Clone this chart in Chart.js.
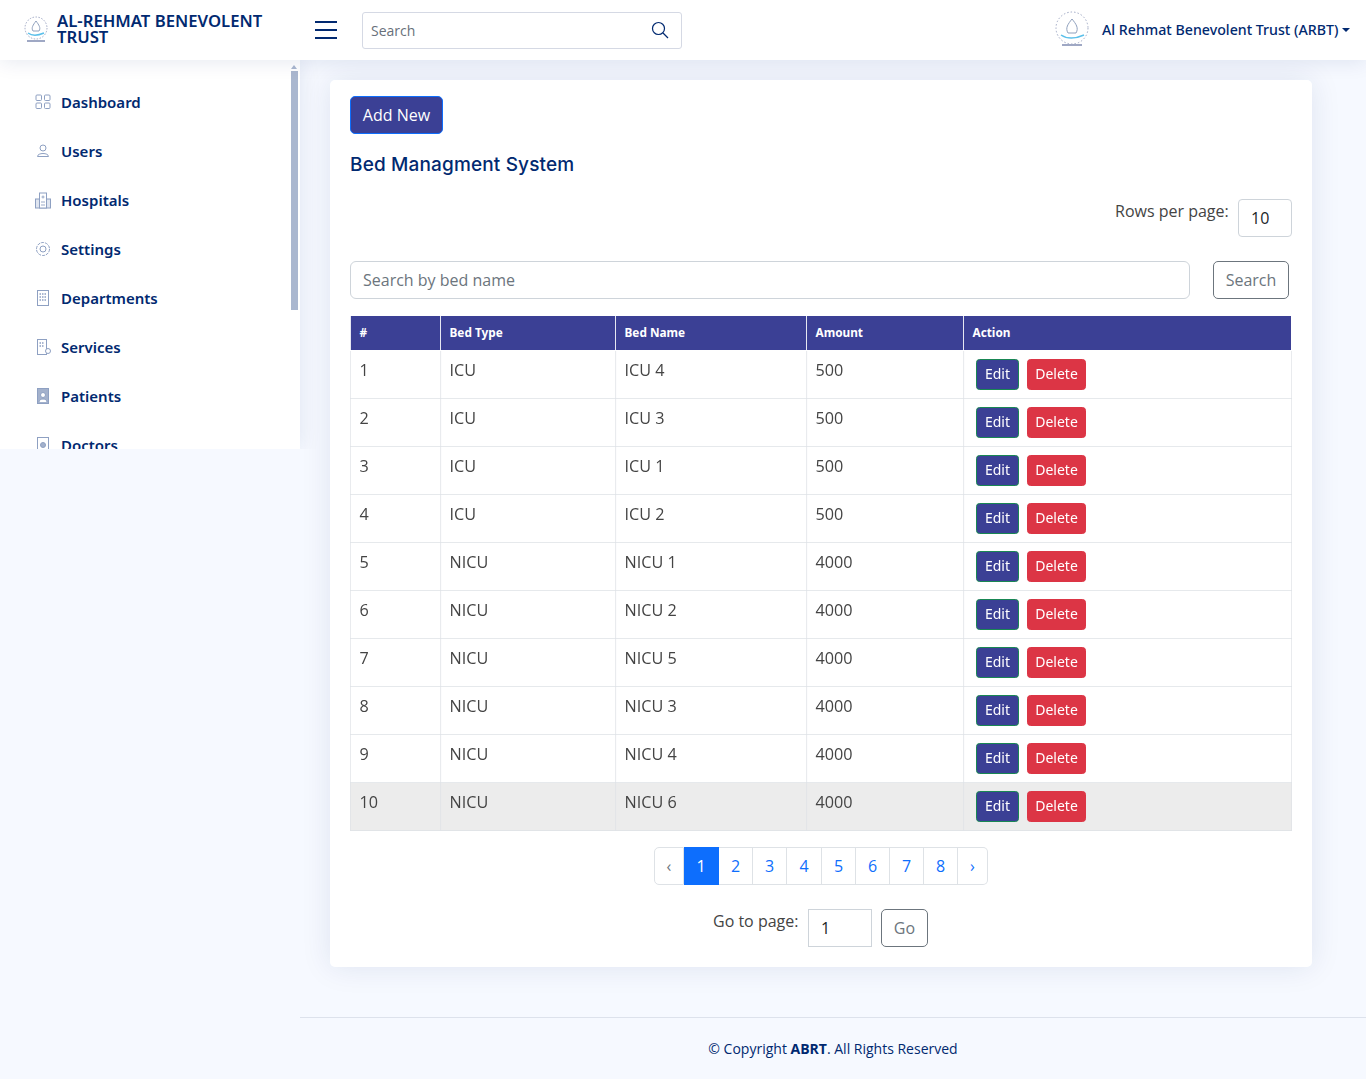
<!DOCTYPE html>
<html>
<head>
<meta charset="utf-8">
<title>Bed Managment System</title>
<script src="https://cdn.jsdelivr.net/npm/chart.js@4"></script>
<style>
  * { box-sizing: border-box; }
  html, body { margin: 0; height: 1079px; overflow: hidden; }
  body { background: #f6f9ff; font-family: "Open Sans", sans-serif; color: #444; position: relative; }
  .abs { position: absolute; white-space: nowrap; }
  .topbar { left: 0; top: 0; width: 1366px; height: 60px; background: #fff; box-shadow: 0 2px 20px rgba(1,41,112,.1); z-index: 3; }
  .brand { left: 57px; top: 13px; font: 600 16.7px/16px "Noto Sans", sans-serif; color: #012970; }
  .burger { left: 315px; width: 22px; height: 2px; background: #012970; }
  .topsearch { left: 362px; top: 12px; width: 320px; height: 37px; border: 1px solid #d5d9e4; border-radius: 3px; font-size: 14px; line-height: 35px; padding-left: 8px; color: #68707a; }
  .user { left: 1102px; top: 20px; font: 500 14.2px/20px "Noto Sans", sans-serif; color: #012970; }
  .caret { left: 1342px; top: 28px; border-top: 4px solid #012970; border-left: 4px solid transparent; border-right: 4px solid transparent; }
  .sidebar { left: 0; top: 60px; width: 300px; height: 389px; background: #fff; box-shadow: 0 0 20px rgba(1,41,112,.1); clip-path: inset(0 -30px 0 0); z-index: 2; }
  .sideclip { left: 0; top: 0; width: 300px; height: 389px; overflow: hidden; }
  .nav { left: 61px; font: 600 15px/20px "Noto Sans", sans-serif; color: #012970; }
  .thumb { left: 291px; top: 11px; width: 7px; height: 239px; background: #aab7cf; }
  .card { left: 330px; top: 80px; width: 982px; height: 887px; background: #fff; border-radius: 5px; box-shadow: 0 0 30px rgba(1,41,112,.1); }
  .btn { border-radius: 5px; text-align: center; font-size: 16px; }
  .field { border: 1px solid #ced4da; font-size: 16px; color: #212529; }
  .th { top: 316px; height: 34px; font: 700 11.8px/33px "Noto Sans", sans-serif; color: #fff; padding-left: 8.5px; background: #3b4095; border-left: 1px solid #e6e8f2; }
  .page { top: 847px; height: 38px; border: 1px solid #dee2e6; border-left: 0; text-align: center; line-height: 36px; font-size: 16px; color: #0d6efd; }
  .footline { left: 300px; top: 1017px; width: 1066px; height: 1px; background: #dde2ec; }
  #bedChart { position: absolute; left: 350px; top: 351px; }
</style>
</head>
<body>
<div class="abs topbar">
  <svg class="abs" style="left:21px;top:16px" width="30" height="28" viewBox="0 0 30 28" fill="none">
    <circle cx="15" cy="12" r="11" stroke="#9fa8c4" stroke-dasharray="1.5 1.5"/>
    <path d="M15 5c-3 4-5 7-3 10h6c2-3 0-6-3-10z" stroke="#8fa0bd"/>
    <path d="M7 17c4 3 9 3 16 0" stroke="#5cc0ea" stroke-width="1.5"/>
    <rect x="6" y="24" width="18" height="2" fill="#9fa8c4"/>
  </svg>
  <div class="abs brand">AL-REHMAT BENEVOLENT<br>TRUST</div>
  <div class="abs burger" style="top:21px"></div>
  <div class="abs burger" style="top:29px"></div>
  <div class="abs burger" style="top:37px"></div>
  <div class="abs topsearch">Search</div>
  <svg class="abs" style="left:651px;top:21px" width="18" height="18" viewBox="0 0 18 18" fill="none" stroke="#012970" stroke-width="1.2">
    <circle cx="7.500" cy="7.500" r="6"/><path d="M12 12l5 5"/>
  </svg>
  <svg class="abs" style="left:1052px;top:11px" width="40" height="38" viewBox="0 0 40 38" fill="none">
    <circle cx="20" cy="17" r="16" stroke="#9fa8c4" stroke-dasharray="1.5 2"/>
    <path d="M20 8c-4 5-7 9-4 14h8c3-5 0-9-4-14z" stroke="#8fa0bd"/>
    <path d="M9 24c6 4 14 4 23 0" stroke="#5cc0ea" stroke-width="1.5"/>
    <rect x="10" y="33" width="20" height="2" fill="#9fa8c4"/>
  </svg>
  <div class="abs user">Al Rehmat Benevolent Trust (ARBT)</div>
  <div class="abs caret"></div>
</div>

<div class="abs sidebar">
  <div class="abs sideclip">
    <div class="abs" style="left:291px;top:5px;border-bottom:4px solid #aab7cf;border-left:3.5px solid transparent;border-right:3.5px solid transparent"></div>
    <div class="abs thumb"></div>
    <svg class="abs" style="left:34px;top:33px" width="20" height="370" viewBox="0 0 20 370" fill="none" stroke="#8ea0c2">
      <g><rect x="2" y="2" width="5.500" height="5.500" rx="1"/><rect x="10.500" y="2" width="5.500" height="5.500" rx="1"/><rect x="2" y="10" width="5.500" height="5.500" rx="1"/><rect x="10.500" y="10" width="5.500" height="5.500" rx="1"/></g>
      <g transform="translate(0,49)"><circle cx="9" cy="6" r="3"/><path d="M3.500 14.500c0-4 11-4 11 0z"/></g>
      <g transform="translate(0,98)"><rect x="1.500" y="8" width="15" height="9" fill="#dfe5f0"/><rect x="5.500" y="2" width="7" height="15" fill="#fff"/><path d="M7.500 6h3M9 4.500v3M7 11h4M7 14h4" stroke-width=".9"/></g>
      <g transform="translate(0,147)"><circle cx="9" cy="9" r="6.500" stroke-dasharray="3 1"/><circle cx="9" cy="9" r="3"/></g>
      <g transform="translate(0,196)"><rect x="3.500" y="1.500" width="11" height="15"/><path d="M5.500 5h7M5.500 8h7M5.500 11h7" stroke-width="1.500" stroke-dasharray="1.500 1"/></g>
      <g transform="translate(0,245)"><rect x="3.500" y="1.500" width="9" height="15"/><path d="M5.500 5h5M5.500 8h5" stroke-width="1.500" stroke-dasharray="1.500 1"/><circle cx="14" cy="13" r="2.500" fill="#fff"/></g>
      <g transform="translate(0,294)"><rect x="3.500" y="1.500" width="11" height="15" fill="#a3b1cc"/><circle cx="9" cy="8" r="2.500" fill="#fff"/><path d="M5 15c0-4 8-4 8 0" fill="#fff"/></g>
      <g transform="translate(0,343)"><rect x="3.500" y="1.500" width="11" height="15"/><circle cx="9" cy="9" r="2.500" fill="#a3b1cc"/></g>
    </svg>
    <div class="abs nav" style="top:32px">Dashboard</div>
    <div class="abs nav" style="top:81px">Users</div>
    <div class="abs nav" style="top:130px">Hospitals</div>
    <div class="abs nav" style="top:179px">Settings</div>
    <div class="abs nav" style="top:228px">Departments</div>
    <div class="abs nav" style="top:277px">Services</div>
    <div class="abs nav" style="top:326px">Patients</div>
    <div class="abs nav" style="top:375px">Doctors</div>
  </div>
</div>

<div class="abs card"></div>
<div class="abs btn" style="left:350px;top:96px;width:93px;height:38px;background:#3b4095;border:1px solid #0d6efd;color:#fff;line-height:36px">Add New</div>
<div class="abs" style="left:350px;top:152px;font:500 19px/26px Inter,sans-serif;letter-spacing:.15px;color:#012970">Bed Managment System</div>

<div class="abs" style="left:1115px;top:199px;font-size:16px;line-height:24px">Rows per page:</div>
<div class="abs field" style="left:1238px;top:199px;width:54px;height:38px;border-radius:4px;line-height:36px;padding-left:12px">10</div>

<div class="abs field" style="left:350px;top:261px;width:840px;height:38px;border-radius:6px;line-height:36px;padding-left:12px;color:#6c757d">Search by bed name</div>
<div class="abs btn" style="left:1213px;top:261px;width:76px;height:38px;border:1px solid #6c757d;color:#6c757d;line-height:36px">Search</div>

<div class="abs" id="tableHead"></div>
<canvas id="bedChart" width="942" height="480"></canvas>

<div class="abs" id="pager"></div>

<div class="abs" style="left:713px;top:909px;font-size:16px;line-height:24px">Go to page:</div>
<div class="abs field" style="left:808px;top:909px;width:64px;height:38px;line-height:36px;padding-left:12px">1</div>
<div class="abs btn" style="left:881px;top:909px;width:47px;height:38px;border:1px solid #6c757d;color:#6c757d;line-height:36px">Go</div>

<div class="abs footline"></div>
<div class="abs" style="left:300px;width:1066px;top:1039px;text-align:center;font-size:14px;line-height:20px;color:#012970">© Copyright <b>ABRT</b>. All Rights Reserved</div>

<script>
const columns = ["#", "Bed Type", "Bed Name", "Amount", "Action"];
const rowNumbers = ["1", "2", "3", "4", "5", "6", "7", "8", "9", "10"];
const bedTypes = ["ICU", "ICU", "ICU", "ICU", "NICU", "NICU", "NICU", "NICU", "NICU", "NICU"];
const bedNames = ["ICU 4", "ICU 3", "ICU 1", "ICU 2", "NICU 1", "NICU 2", "NICU 5", "NICU 3", "NICU 4", "NICU 6"];
const amounts = [500, 500, 500, 500, 4000, 4000, 4000, 4000, 4000, 4000];
const pageLabels = ["‹", "1", "2", "3", "4", "5", "6", "7", "8", "›"];

const columnWidths = [91, 175, 191, 157, 328];
const columnText = [rowNumbers, bedTypes, bedNames, amounts, null];
const INDIGO = "#3b4095";
const GRID = "#dee2e6";

// header strip sits above the canvas, rows are 48px but the header is not
let headX = 350;
const headEl = document.getElementById("tableHead");
columns.forEach((name, i) => {
  const th = document.createElement("div");
  th.className = "abs th";
  th.style.left = headX - (i ? 1 : 0) + "px";
  th.style.width = columnWidths[i] + "px";
  th.textContent = name;
  headEl.appendChild(th);
  headX += columnWidths[i];
});

const pageEdges = [654, 684, 719, 753, 787, 822, 856, 890, 924, 958, 988];
const pagerEl = document.getElementById("pager");
pageLabels.forEach((label, i) => {
  const p = document.createElement("div");
  p.className = "abs page";
  p.style.left = pageEdges[i] + "px";
  p.style.width = pageEdges[i + 1] - pageEdges[i] + "px";
  p.textContent = label;
  if (i === 0) {
    p.style.borderLeft = "1px solid #dee2e6";
    p.style.borderRadius = "5px 0 0 5px";
    p.style.color = "#6c757d";
  }
  if (i === 1) {
    p.style.background = "#0d6efd";
    p.style.borderColor = "#0d6efd";
    p.style.color = "#fff";
  }
  if (i === pageLabels.length - 1) p.style.borderRadius = "0 5px 5px 0";
  pagerEl.appendChild(p);
});

function drawButton(ctx, x, y, w, h, fill, stroke, label) {
  ctx.beginPath();
  ctx.roundRect(x, y, w, h, 3);
  ctx.fillStyle = fill;
  ctx.fill();
  ctx.strokeStyle = stroke;
  ctx.lineWidth = 1;
  ctx.stroke();
  ctx.fillStyle = "#fff";
  ctx.font = '14px "Noto Sans", sans-serif';
  ctx.textAlign = "center";
  ctx.fillText(label, x + w / 2, y + h / 2 + 0.5);
  ctx.textAlign = "left";
}

const cellTextPlugin = {
  id: "cellText",
  afterDatasetsDraw(chart) {
    const ctx = chart.ctx;
    ctx.save();
    ctx.textBaseline = "middle";
    columnText.forEach((values, col) => {
      chart.getDatasetMeta(col).data.forEach((bar, row) => {
        const left = Math.min(bar.base, bar.x);
        if (values) {
          ctx.font = '16.2px "Open Sans", sans-serif';
          ctx.fillStyle = "#444";
          ctx.fillText(String(values[row]), left + (col ? 8.5 : 9.5), bar.y - 3.5);
        } else {
          const top = Math.round(bar.y) - 16;
          drawButton(ctx, left + 12.5, top + 0.5, 42, 30, INDIGO, "#198754", "Edit");
          drawButton(ctx, left + 63.5, top + 0.5, 58, 30, "#dc3545", "#dc3545", "Delete");
        }
      });
    });
    ctx.restore();
  },
};

new Chart(document.getElementById("bedChart"), {
  type: "bar",
  data: {
    labels: rowNumbers,
    datasets: columns.map((name, col) => ({
      label: name,
      data: rowNumbers.map(() => columnWidths[col]),
      backgroundColor: rowNumbers.map((_, row) => (row === 9 ? "#ececec" : "#fff")),
      borderColor: GRID,
      borderWidth: { top: 0, left: col === 0 ? 1 : 0, right: 1, bottom: 1 },
      borderSkipped: false,
      barPercentage: 1,
      categoryPercentage: 1,
    })),
  },
  options: {
    indexAxis: "y",
    responsive: false,
    animation: false,
    devicePixelRatio: 1,
    layout: { padding: 0 },
    plugins: { legend: { display: false }, tooltip: { enabled: false } },
    scales: {
      x: { stacked: true, display: false, min: 0, max: 942 },
      y: { stacked: true, display: false },
    },
  },
  plugins: [cellTextPlugin],
});
</script>
</body>
</html>
